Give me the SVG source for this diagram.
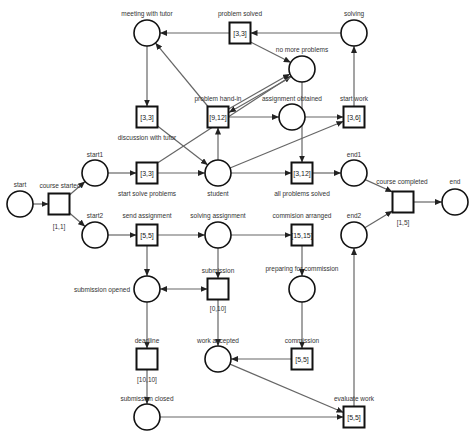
<svg xmlns="http://www.w3.org/2000/svg" width="474" height="438" viewBox="0 0 474 438">
<defs>
<marker id="arr" markerUnits="userSpaceOnUse" markerWidth="8" markerHeight="6" refX="7" refY="3" orient="auto-start-reverse">
<path d="M0,0 L7,3 L0,6 z" fill="#222"/>
</marker>
<style>
.pl{fill:#fff;stroke:#111;stroke-width:1.6}
.tr{fill:#fff;stroke:#111;stroke-width:2}
.e{fill:none;stroke:#666;stroke-width:1.2;marker-end:url(#arr)}
.lb{font-family:"Liberation Sans",Arial,sans-serif;font-size:6.5px;fill:#333;text-anchor:middle}
.in{font-family:"Liberation Sans",Arial,sans-serif;font-size:7px;fill:#222;text-anchor:middle}
</style>
</defs>
<rect width="474" height="438" fill="#fff"/>
<g id="connectors">
<line class="e" x1="33" y1="204" x2="48.5" y2="204"/>
<line class="e" x1="69.5" y1="195" x2="85.1" y2="181.5"/>
<line class="e" x1="69.5" y1="213" x2="85.1" y2="226.5"/>
<line class="e" x1="108" y1="173" x2="136.5" y2="173"/>
<line class="e" x1="157.5" y1="173" x2="205" y2="173"/>
<line class="e" x1="157.5" y1="163" x2="291.1" y2="76.1"/>
<line class="e" x1="157.5" y1="126" x2="207.8" y2="165"/>
<line class="e" x1="147" y1="46" x2="147" y2="106.5"/>
<line class="e" x1="229.5" y1="33" x2="160" y2="33"/>
<line class="e" x1="341" y1="33" x2="250.5" y2="33"/>
<line class="e" x1="250.5" y1="42" x2="290.8" y2="62.5"/>
<line class="e" x1="208" y1="106.5" x2="155.4" y2="42.9"/>
<line class="e" x1="218" y1="160" x2="218" y2="127.5"/>
<line class="e" x1="228.5" y1="117" x2="279" y2="117"/>
<line class="e" x1="227.7" y1="109.6" x2="289.9" y2="74"/>
<line class="e" x1="291.5" y1="76.8" x2="228.9" y2="112.4"/>
<line class="e" x1="305" y1="117" x2="343.5" y2="117"/>
<line class="e" x1="230" y1="168" x2="343.5" y2="121.3"/>
<line class="e" x1="354" y1="106.5" x2="354" y2="46"/>
<line class="e" x1="302" y1="82" x2="302" y2="162.5"/>
<line class="e" x1="231" y1="173" x2="291.5" y2="173"/>
<line class="e" x1="312.5" y1="173" x2="341" y2="173"/>
<line class="e" x1="365.2" y1="179.6" x2="392.5" y2="192"/>
<line class="e" x1="364.8" y1="227.7" x2="392.5" y2="211"/>
<line class="e" x1="413.5" y1="202" x2="442" y2="202"/>
<line class="e" x1="108" y1="235" x2="136.5" y2="235"/>
<line class="e" x1="157.5" y1="235" x2="205" y2="235"/>
<line class="e" x1="231" y1="235" x2="291.5" y2="235"/>
<line class="e" x1="147" y1="245.5" x2="147" y2="276"/>
<line class="e" x1="218" y1="248" x2="218" y2="278.5"/>
<line class="e" x1="160" y1="289" x2="207.5" y2="289" marker-start="url(#arr)"/>
<line class="e" x1="218" y1="299.5" x2="218" y2="346"/>
<line class="e" x1="147" y1="302" x2="147" y2="348.5"/>
<line class="e" x1="147" y1="369.5" x2="147" y2="404"/>
<line class="e" x1="302" y1="245.5" x2="302" y2="276"/>
<line class="e" x1="302" y1="302" x2="302" y2="348.5"/>
<line class="e" x1="291.5" y1="359" x2="231" y2="359"/>
<line class="e" x1="230" y1="364.1" x2="343.5" y2="412.5"/>
<line class="e" x1="160" y1="417" x2="343.5" y2="417"/>
<line class="e" x1="354" y1="406.5" x2="354" y2="248"/>
</g>
<g id="meeting-with-tutor"><circle class="pl" cx="147" cy="33" r="13"/><text class="lb" x="147" y="16">meeting with tutor</text></g>
<g id="solving"><circle class="pl" cx="354" cy="33" r="13"/><text class="lb" x="354" y="16">solving</text></g>
<g id="no-more-problems"><circle class="pl" cx="302" cy="69" r="13"/><text class="lb" x="302" y="52">no more problems</text></g>
<g id="assignment-obtained"><circle class="pl" cx="292" cy="117" r="13"/><text class="lb" x="292" y="101">assignment obtained</text></g>
<g id="start"><circle class="pl" cx="20" cy="204" r="13"/><text class="lb" x="20" y="187">start</text></g>
<g id="start1"><circle class="pl" cx="95" cy="173" r="13"/><text class="lb" x="95" y="157">start1</text></g>
<g id="start2"><circle class="pl" cx="95" cy="235" r="13"/><text class="lb" x="95" y="218">start2</text></g>
<g id="student"><circle class="pl" cx="218" cy="173" r="13"/><text class="lb" x="218" y="196">student</text></g>
<g id="solving-assignment"><circle class="pl" cx="218" cy="235" r="13"/><text class="lb" x="218" y="218">solving assignment</text></g>
<g id="end1"><circle class="pl" cx="354" cy="173" r="13"/><text class="lb" x="354" y="157">end1</text></g>
<g id="end2"><circle class="pl" cx="354" cy="235" r="13"/><text class="lb" x="354" y="218">end2</text></g>
<g id="end"><circle class="pl" cx="455" cy="202" r="13"/><text class="lb" x="455" y="184">end</text></g>
<g id="submission-opened"><circle class="pl" cx="147" cy="289" r="13"/><text class="lb" x="130" y="292" style="text-anchor:end">submission opened</text></g>
<g id="preparing-for-commission"><circle class="pl" cx="302" cy="289" r="13"/><text class="lb" x="302" y="271">preparing for commission</text></g>
<g id="work-accepted"><circle class="pl" cx="218" cy="359" r="13"/><text class="lb" x="218" y="343">work accepted</text></g>
<g id="submission-closed"><circle class="pl" cx="147" cy="417" r="13"/><text class="lb" x="147" y="401">submission closed</text></g>
<g id="problem-solved"><rect class="tr" x="229.5" y="22.5" width="21" height="21"/><text class="in" x="240" y="35.5">[3,3]</text><text class="lb" x="240" y="16">problem solved</text></g>
<g id="discussion-with-tutor"><rect class="tr" x="136.5" y="106.5" width="21" height="21"/><text class="in" x="147" y="119.5">[3,3]</text><text class="lb" x="147" y="140">discussion with tutor</text></g>
<g id="problem-hand-in"><rect class="tr" x="207.5" y="106.5" width="21" height="21"/><text class="in" x="218" y="119.5">[9,12]</text><text class="lb" x="218" y="101">problem hand-in</text></g>
<g id="start-work"><rect class="tr" x="343.5" y="106.5" width="21" height="21"/><text class="in" x="354" y="119.5">[3,6]</text><text class="lb" x="354" y="101">start work</text></g>
<g id="course-started"><rect class="tr" x="48.5" y="193.5" width="21" height="21"/><text class="lb" x="60" y="188">course started</text><text class="lb" x="59" y="229">[1,1]</text></g>
<g id="start-solve-problems"><rect class="tr" x="136.5" y="162.5" width="21" height="21"/><text class="in" x="147" y="175.5">[3,3]</text><text class="lb" x="147" y="196">start solve problems</text></g>
<g id="all-problems-solved"><rect class="tr" x="291.5" y="162.5" width="21" height="21"/><text class="in" x="302" y="175.5">[3,12]</text><text class="lb" x="302" y="196">all problems solved</text></g>
<g id="course-completed"><rect class="tr" x="392.5" y="191.5" width="21" height="21"/><text class="lb" x="402" y="184">course completed</text><text class="lb" x="403" y="225">[1,5]</text></g>
<g id="send-assignment"><rect class="tr" x="136.5" y="224.5" width="21" height="21"/><text class="in" x="147" y="237.5">[5,5]</text><text class="lb" x="147" y="218">send assignment</text></g>
<g id="commision-arranged"><rect class="tr" x="291.5" y="224.5" width="21" height="21"/><text class="in" x="302" y="237.5">[15,15]</text><text class="lb" x="302" y="218">commision arranged</text></g>
<g id="submission"><rect class="tr" x="207.5" y="278.5" width="21" height="21"/><text class="lb" x="218" y="273">submission</text><text class="lb" x="218" y="311">[0,10]</text></g>
<g id="deadline"><rect class="tr" x="136.5" y="348.5" width="21" height="21"/><text class="lb" x="147" y="343">deadline</text><text class="lb" x="147" y="382">[10,10]</text></g>
<g id="commission"><rect class="tr" x="291.5" y="348.5" width="21" height="21"/><text class="in" x="302" y="361.5">[5,5]</text><text class="lb" x="302" y="343">commission</text></g>
<g id="evaluate-work"><rect class="tr" x="343.5" y="406.5" width="21" height="21"/><text class="in" x="354" y="419.5">[5,5]</text><text class="lb" x="354" y="401">evaluate work</text></g>
</svg>
